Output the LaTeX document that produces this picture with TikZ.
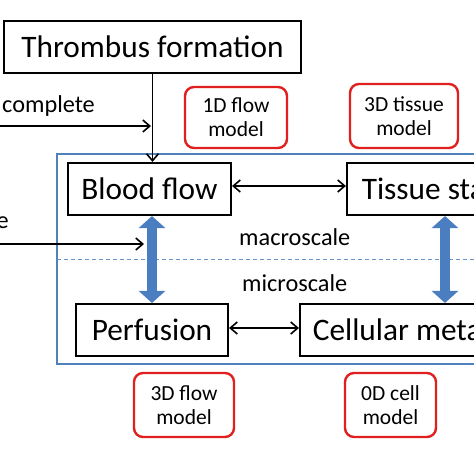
\documentclass[tikz,border=0pt]{standalone}
\usepackage{fontspec}
\setmainfont{Carlito}
\usetikzlibrary{arrows.meta}
\definecolor{myblue}{HTML}{4F81BD}
\definecolor{thickblue}{HTML}{4A7EC0}
\definecolor{myred}{HTML}{E0201F}
\begin{document}
\begin{tikzpicture}[x=1pt,y=-1pt,
  box/.style={draw=black,line width=2.1pt,fill=white,inner sep=0pt,font=\fontsize{31.3}{34}\selectfont},
  model/.style={draw=myred,line width=2.4pt,rounded corners=9pt,align=center,inner sep=0pt,font=\fontsize{21.5}{24}\selectfont},
  lbl/.style={inner sep=0pt,font=\fontsize{24.3}{26}\selectfont},
  conn/.style={line width=1.6pt,-{Straight Barb[length=7pt,width=12pt]}},
  bidir/.style={line width=1.6pt,{Straight Barb[length=7pt,width=12pt]}-{Straight Barb[length=7pt,width=12pt]}},
  fatarrow/.style={thickblue,line width=10pt,{Triangle[width=26pt,length=12pt]}-{Triangle[width=26pt,length=12pt]}}
]
\useasboundingbox (0,0) rectangle (474,474);
\clip (0,0) rectangle (474,474);
\fill[white] (0,0) rectangle (474,474);

% blue scale frame and divider
\draw[myblue,line width=2.6pt] (57,154) rectangle (640,364);
\draw[myblue!85,line width=1pt,dash pattern=on 4pt off 3pt] (57,259) -- (640,259);

% main boxes
\node[box,minimum width=297pt,minimum height=52pt] (thrombus) at (152.5,47) {Thrombus formation};
\node[box,minimum width=163pt,minimum height=52pt] (blood) at (149.5,189) {Blood flow};
\node[box,minimum width=178pt,minimum height=52pt] (tissue) at (436,189) {Tissue state};
\node[box,minimum width=152pt,minimum height=52pt] (perfusion) at (152,330) {Perfusion};
\node[box,minimum width=279pt,minimum height=52pt] (cellular) at (439.5,330) {Cellular metabolism};

% model labels
\node[model,minimum width=102pt,minimum height=61pt] (m1d) at (236,117.5) {1D flow\\model};
\node[model,minimum width=108pt,minimum height=64pt] (m3dt) at (404,116) {3D tissue\\model};
\node[model,minimum width=100pt,minimum height=64pt] (m3df) at (184,405) {3D flow\\model};
\node[model,minimum width=91pt,minimum height=64pt] (m0d) at (390.5,405) {0D cell\\model};

% text labels
\node[lbl,anchor=west] (complete) at (2,106) {complete};
\node[lbl,anchor=east] (etext) at (9,223) {e};
\node[lbl,anchor=west] (macro) at (239,237) {macroscale};
\node[lbl,anchor=west] (micro) at (242,283) {microscale};

% connectors
\coordinate (cin) at (0,126);
\coordinate (cend) at (151,126);
\coordinate (ein) at (0,244);
\coordinate (eend) at (144,244);
\draw[conn] (thrombus.south) -- (thrombus.south |- blood.north);
\draw[conn] (cin) -- (cend);
\draw[conn] (ein) -- (eend);
\draw[bidir] ([yshift=3pt]blood.east) -- ([yshift=3pt]tissue.west);
\draw[bidir] ([yshift=2pt]perfusion.east) -- ([yshift=2pt]cellular.west);
\draw[fatarrow] (perfusion.north |- blood.south) -- (perfusion.north);
\draw[fatarrow] ([xshift=9pt]tissue.south) -- ([xshift=9pt]tissue.south |- cellular.north);
\end{tikzpicture}
\end{document}
